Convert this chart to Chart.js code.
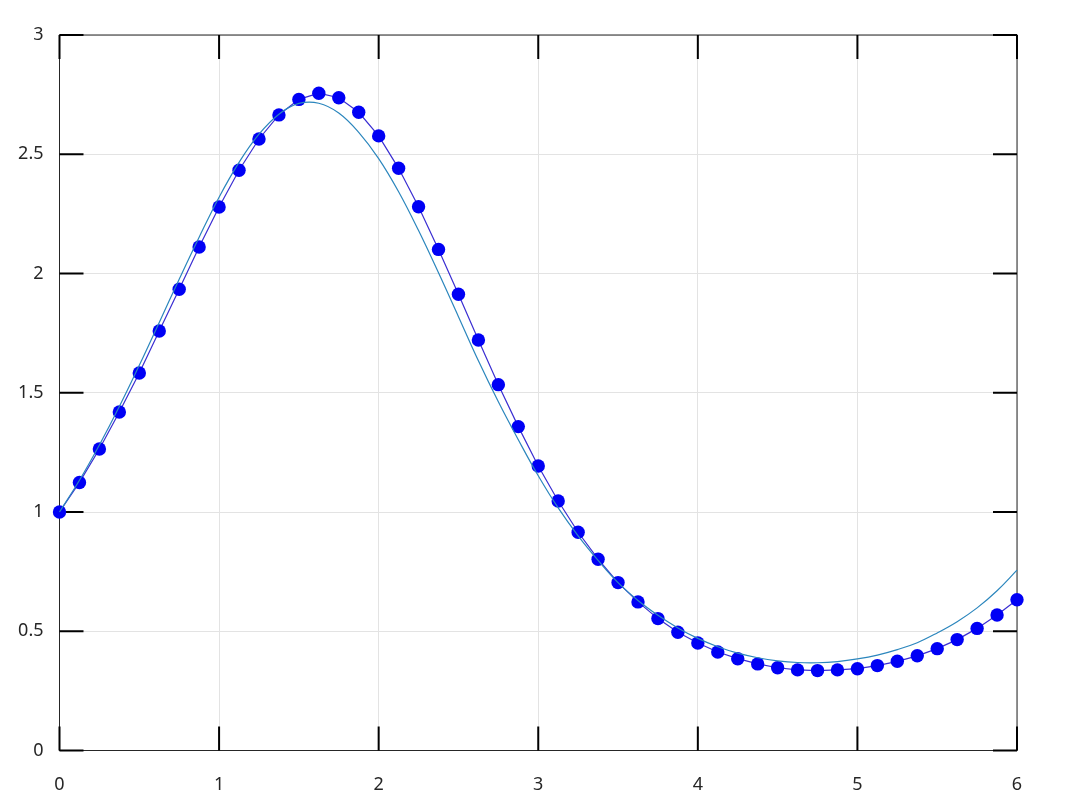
<!DOCTYPE html>
<html>
<head>
<meta charset="utf-8">
<script src="https://cdn.jsdelivr.net/npm/chart.js@4/dist/chart.umd.min.js"></script>
<style>
  html, body { margin: 0; padding: 0; background: #fff; }
  canvas { display: block; }
</style>
</head>
<body>
<canvas id="chart" width="1072" height="806"></canvas>
<script>
// x positions of the samples (step 0.125)
const xValues = [
  0, 0.125, 0.25, 0.375, 0.5, 0.625, 0.75, 0.875,
  1, 1.125, 1.25, 1.375, 1.5, 1.625, 1.75, 1.875,
  2, 2.125, 2.25, 2.375, 2.5, 2.625, 2.75, 2.875,
  3, 3.125, 3.25, 3.375, 3.5, 3.625, 3.75, 3.875,
  4, 4.125, 4.25, 4.375, 4.5, 4.625, 4.75, 4.875,
  5, 5.125, 5.25, 5.375, 5.5, 5.625, 5.75, 5.875, 6
];

// blue dots
const dotValues = [
  1.000, 1.124, 1.264, 1.419, 1.583, 1.759, 1.934, 2.111,
  2.279, 2.433, 2.564, 2.665, 2.730, 2.756, 2.737, 2.676,
  2.577, 2.441, 2.280, 2.101, 1.913, 1.721, 1.534, 1.358,
  1.193, 1.046, 0.915, 0.802, 0.704, 0.623, 0.553, 0.496,
  0.451, 0.413, 0.385, 0.363, 0.347, 0.338, 0.335, 0.338,
  0.343, 0.356, 0.374, 0.397, 0.427, 0.465, 0.512, 0.568, 0.632
];

// thin teal curve
const curveValues = [
  1.000, 1.133, 1.281, 1.442, 1.615, 1.795, 1.976, 2.152,
  2.320, 2.466, 2.584, 2.668, 2.713, 2.714, 2.673, 2.592,
  2.482, 2.343, 2.180, 2.003, 1.819, 1.634, 1.462, 1.303,
  1.152, 1.017, 0.900, 0.797, 0.704, 0.629, 0.567, 0.514,
  0.470, 0.435, 0.408, 0.389, 0.376, 0.369, 0.368, 0.373,
  0.384, 0.400, 0.423, 0.452, 0.493, 0.540, 0.598, 0.670, 0.756
];

const xTicks = [0, 1, 2, 3, 4, 5, 6];
const yTicks = [0, 0.5, 1, 1.5, 2, 2.5, 3];

const font = { family: "'Noto Sans', 'Open Sans', sans-serif", size: 18 };

// box around the plot with inward tick marks on all four sides
const frame = {
  id: "frame",
  beforeDatasetsDraw(chart) {
    const { ctx, chartArea: a, scales } = chart;
    ctx.save();
    ctx.strokeStyle = "#262626";
    ctx.lineWidth = 1;
    ctx.strokeRect(a.left, a.top, a.right - a.left, a.bottom - a.top);
    ctx.strokeStyle = "#000";
    ctx.lineWidth = 2;
    const len = 24;
    ctx.beginPath();
    xTicks.forEach((v) => {
      const px = scales.x.getPixelForValue(v);
      ctx.moveTo(px, a.bottom); ctx.lineTo(px, a.bottom - len);
      ctx.moveTo(px, a.top); ctx.lineTo(px, a.top + len);
    });
    yTicks.forEach((v) => {
      const py = scales.y.getPixelForValue(v);
      ctx.moveTo(a.left, py); ctx.lineTo(a.left + len, py);
      ctx.moveTo(a.right, py); ctx.lineTo(a.right - len, py);
    });
    ctx.stroke();
    ctx.restore();
  },
};

new Chart(document.getElementById("chart"), {
  type: "line",
  data: {
    datasets: [
      {
        label: "curve",
        data: xValues.map((x, i) => ({ x, y: curveValues[i] })),
        borderColor: "#2b86bd",
        borderWidth: 1.2,
        pointRadius: 0,
        tension: 0.4,
        fill: false,
        clip: false,
      },
      {
        label: "dots",
        data: xValues.map((x, i) => ({ x, y: dotValues[i] })),
        borderColor: "#3a2ed2",
        borderWidth: 1.2,
        pointRadius: 6.7,
        pointBackgroundColor: "#0000f5",
        pointBorderColor: "#0000f5",
        pointBorderWidth: 0,
        tension: 0,
        fill: false,
        clip: false,
      },
    ],
  },
  options: {
    responsive: false,
    animation: false,
    devicePixelRatio: 1,
    layout: { padding: { top: 35, right: 55, bottom: 0, left: 0 } },
    plugins: {
      legend: { display: false },
      tooltip: { enabled: false },
    },
    scales: {
      x: {
        type: "linear",
        min: 0,
        max: 6,
        afterFit: (s) => { s.height = 55.5; },
        afterBuildTicks: (s) => { s.ticks = xTicks.map((v) => ({ value: v })); },
        grid: { color: "#e3e3e3", drawTicks: false },
        border: { display: false },
        ticks: { font, color: "#262626", padding: 24, maxRotation: 0, callback: (v) => String(v) },
      },
      y: {
        type: "linear",
        min: 0,
        max: 3,
        afterFit: (s) => { s.width = 59.5; },
        afterBuildTicks: (s) => { s.ticks = yTicks.map((v) => ({ value: v })); },
        grid: { color: "#e3e3e3", drawTicks: false },
        border: { display: false },
        ticks: { font, color: "#262626", padding: 16, callback: (v) => String(v) },
      },
    },
  },
  plugins: [frame],
});
</script>
</body>
</html>
